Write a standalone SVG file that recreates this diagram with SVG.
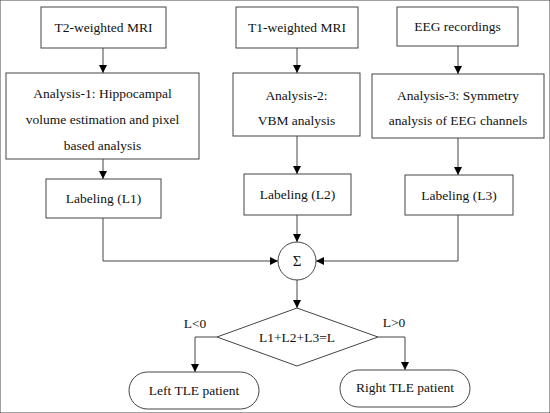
<svg xmlns="http://www.w3.org/2000/svg" width="550" height="413" viewBox="0 0 550 413">
<defs>
<marker id="ah" markerWidth="8" markerHeight="8" refX="8" refY="4" orient="auto" markerUnits="userSpaceOnUse">
<path d="M0,0 L8,4 L0,8 Z" fill="#000"/>
</marker>
</defs>
<style>
rect,ellipse,circle,polygon{fill:#fff;stroke:#444;stroke-width:1}
.c{fill:none;stroke:#444;stroke-width:1;marker-end:url(#ah)}
text{font-family:'Liberation Serif',serif;font-size:13.5px;fill:#111;text-anchor:middle}
</style>
<rect width="550" height="413" fill="#fff" stroke="none"/>
<g id="connectors">
<line class="c" x1="103" y1="48" x2="103" y2="73"/>
<line class="c" x1="103" y1="159" x2="103" y2="179"/>
<polyline class="c" points="103,218 103,261 278,261"/>
<line class="c" x1="297" y1="48" x2="297" y2="73"/>
<line class="c" x1="297" y1="136" x2="297" y2="174"/>
<line class="c" x1="297" y1="215" x2="297" y2="242"/>
<line class="c" x1="458" y1="46" x2="458" y2="74"/>
<line class="c" x1="458" y1="138" x2="458" y2="175"/>
<polyline class="c" points="458,215 458,261 316,261"/>
<line class="c" x1="297" y1="280" x2="297" y2="308"/>
<polyline class="c" points="217,337 195,337 195,372"/>
<polyline class="c" points="378,337 405,337 405,370"/>
</g>
<g font-family="Liberation Serif, serif">
<g id="t2"><rect x="41" y="7" width="125" height="41"/><text x="103.5" y="32">T2-weighted MRI</text></g>
<g id="t1"><rect x="236" y="7" width="122" height="41"/><text x="297" y="32">T1-weighted MRI</text></g>
<g id="eeg"><rect x="397" y="7" width="121" height="39"/><text x="457.5" y="31">EEG recordings</text></g>
<g id="a1"><rect x="6" y="73" width="193" height="86"/>
<text x="102.5" y="98">Analysis-1: Hippocampal</text>
<text x="102.5" y="124">volume estimation and pixel</text>
<text x="102.5" y="150">based analysis</text></g>
<g id="a2"><rect x="233" y="73" width="127" height="63"/>
<text x="296.5" y="100">Analysis-2:</text>
<text x="296.5" y="125">VBM analysis</text></g>
<g id="a3"><rect x="372" y="74" width="172" height="64"/>
<text x="458" y="100">Analysis-3: Symmetry</text>
<text x="458" y="125">analysis of EEG channels</text></g>
<g id="l1"><rect x="46" y="179" width="115" height="39"/><text x="103.5" y="203">Labeling (L1)</text></g>
<g id="l2"><rect x="244" y="174" width="107" height="41"/><text x="297.5" y="199">Labeling (L2)</text></g>
<g id="l3"><rect x="405" y="175" width="108" height="40"/><text x="459" y="200">Labeling (L3)</text></g>
<g id="sum"><circle cx="297" cy="261" r="19"/><text x="297" y="266" style="font-size:15px">Σ</text></g>
<g id="dec"><polygon points="297,308 378,337 297,366 217,337"/><text x="297" y="342">L1+L2+L3=L</text></g>
<g id="left"><rect x="129" y="372" width="130" height="37" rx="18.5"/><text x="194" y="395">Left TLE patient</text></g>
<g id="right"><rect x="340" y="370" width="130" height="37" rx="18.5"/><text x="405" y="392">Right TLE patient</text></g>
<g id="labels"><text x="195" y="328">L&lt;0</text><text x="394" y="327">L&gt;0</text></g>
</g>
</svg>
